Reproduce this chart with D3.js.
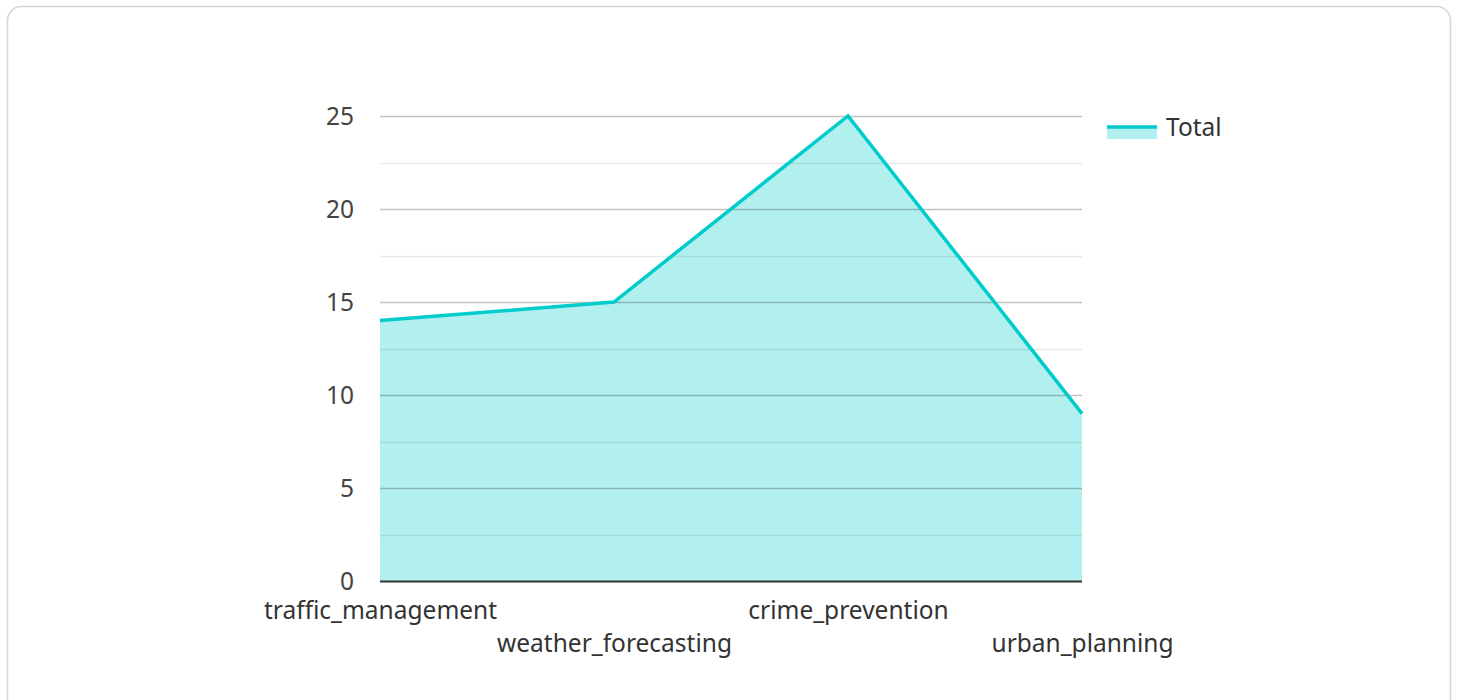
<!DOCTYPE html>
<html>
<head>
<meta charset="utf-8">
<script src="https://cdn.jsdelivr.net/npm/d3@7"></script>
<style>
  html, body { margin: 0; padding: 0; background: #fff; }
  body { width: 1458px; height: 700px; overflow: hidden; font-family: "Noto Sans", sans-serif; }
</style>
</head>
<body>
<svg id="chart" width="1458" height="700"></svg>
<script>
// Area chart: one "Total" series over four categories
const categories = ["traffic_management", "weather_forecasting", "crime_prevention", "urban_planning"];
const totals = [14, 15, 25, 9];
const yTicks = [0, 5, 10, 15, 20, 25];
const yMinorTicks = [2.5, 7.5, 12.5, 17.5, 22.5];
const seriesName = "Total";

const lineColor = "#00cccc";
const fillColor = "rgba(0,204,204,0.3)";
const fontSize = 24.5;

const svg = d3.select("#chart");

// card frame
svg.append("rect")
  .attr("x", 7.5).attr("y", 6.5)
  .attr("width", 1443).attr("height", 720)
  .attr("rx", 14).attr("ry", 14)
  .attr("fill", "#fff")
  .attr("stroke", "#d6d6d6")
  .attr("stroke-width", 1.5);

const plot = { left: 380, right: 1082, top: 116, bottom: 581 };

const x = d3.scalePoint().domain(categories).range([plot.left, plot.right]);
const y = d3.scaleLinear().domain([0, 25]).range([plot.bottom, plot.top]);

const data = categories.map((c, i) => ({ cat: c, value: totals[i] }));

// area fill
svg.append("path")
  .datum(data)
  .attr("fill", fillColor)
  .attr("d", d3.area().x(d => x(d.cat)).y0(y(0)).y1(d => y(d.value)));

// minor gridlines
svg.append("g")
  .selectAll("line")
  .data(yMinorTicks)
  .join("line")
  .attr("x1", plot.left).attr("x2", plot.right)
  .attr("y1", d => Math.round(y(d)) + 0.5).attr("y2", d => Math.round(y(d)) + 0.5)
  .attr("stroke", "rgba(0,0,0,0.09)")
  .attr("stroke-width", 1.3);

// major gridlines
svg.append("g")
  .selectAll("line")
  .data(yTicks.filter(t => t !== 0))
  .join("line")
  .attr("x1", plot.left).attr("x2", plot.right)
  .attr("y1", d => Math.round(y(d)) + 0.5).attr("y2", d => Math.round(y(d)) + 0.5)
  .attr("stroke", "rgba(0,0,0,0.24)")
  .attr("stroke-width", 1.4);

// y axis labels
const yAxis = d3.axisLeft(y).tickValues(yTicks).tickSize(0).tickPadding(26).tickFormat(d3.format("d"));
const yG = svg.append("g").attr("transform", `translate(${plot.left},0)`).call(yAxis);
yG.select(".domain").remove();
yG.selectAll("text")
  .attr("font-family", "Noto Sans")
  .attr("font-size", fontSize)
  .attr("fill", "#444")
  .attr("y", 1);

// line
svg.append("path")
  .datum(data)
  .attr("fill", "none")
  .attr("stroke", lineColor)
  .attr("stroke-width", 3.5)
  .attr("stroke-linejoin", "miter")
  .attr("d", d3.line().x(d => x(d.cat)).y(d => y(d.value)));

// baseline
svg.append("line")
  .attr("x1", plot.left).attr("x2", plot.right)
  .attr("y1", plot.bottom + 0.5).attr("y2", plot.bottom + 0.5)
  .attr("stroke", "#333")
  .attr("stroke-width", 2);

// x axis labels, staggered over two rows
const xAxis = d3.axisBottom(x).tickSize(0).tickPadding(0);
const xG = svg.append("g").attr("transform", `translate(0,${plot.bottom})`).call(xAxis);
xG.select(".domain").remove();
xG.selectAll("text")
  .attr("font-family", "Noto Sans")
  .attr("font-size", fontSize)
  .attr("fill", "#333")
  .attr("dy", null)
  .attr("y", (d, i) => i % 2 === 0 ? 38 : 71);

// legend
const lg = svg.append("g").attr("transform", "translate(1107,127)");
lg.append("rect").attr("x", 0).attr("y", 0).attr("width", 50).attr("height", 12).attr("fill", fillColor);
lg.append("line").attr("x1", 0).attr("x2", 50).attr("y1", 0).attr("y2", 0)
  .attr("stroke", lineColor).attr("stroke-width", 3.5);
lg.append("text").attr("x", 59).attr("y", 9)
  .attr("font-family", "Noto Sans").attr("font-size", fontSize).attr("fill", "#333")
  .text(seriesName);
</script>
</body>
</html>
